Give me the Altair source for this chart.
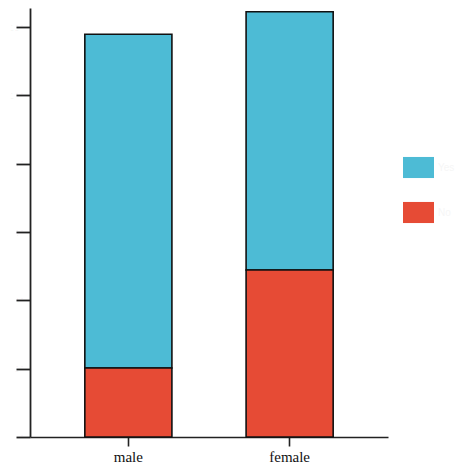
import altair as alt
import pandas as pd

groups = ["male", "female"]
series = ["Yes", "No"]
values_a = [97.7, 75.6]   # top (blue)
values_b = [20.2, 48.9]   # bottom (red)
colors = ["#4DBBD5", "#E64B35"]
y_ticks = [0, 20, 40, 60, 80, 100, 120]

rows = []
for g, a, b in zip(groups, values_a, values_b):
    rows.append({"group": g, "series": series[0], "value": a, "ord": 1})
    rows.append({"group": g, "series": series[1], "value": b, "ord": 0})
df = pd.DataFrame(rows)

rect_path = "M-1,-0.68H1V0.68H-1Z"

chart = alt.Chart(df).mark_bar(stroke="#111111", strokeWidth=1.6).encode(
    x=alt.X("group:N", sort=groups,
            scale=alt.Scale(paddingInner=0.46, paddingOuter=0.34),
            axis=alt.Axis(title=None, labelAngle=0,
                          labelFont="Liberation Serif, Times New Roman, serif",
                          labelFontSize=15, labelColor="#111111", labelPadding=3,
                          tickSize=9, tickWidth=1.6, tickColor="#222222",
                          domainColor="#222222", domainWidth=1.6)),
    y=alt.Y("value:Q", stack="zero",
            scale=alt.Scale(domain=[0, 125.6], nice=False),
            axis=alt.Axis(title=None, values=y_ticks, labelColor="#000000",
                          labelOpacity=0.04,
                          labelFontSize=9, labelPadding=-8, tickSize=14, tickWidth=1.8,
                          tickColor="#222222", domainColor="#222222",
                          domainWidth=1.8, grid=False)),
    color=alt.Color("series:N", sort=series,
                    scale=alt.Scale(domain=series, range=colors),
                    legend=alt.Legend(title=None, orient="none", legendX=373, legendY=144,
                                      symbolType=rect_path, symbolSize=961,
                                      symbolStrokeWidth=0, symbolOpacity=1,
                                      rowPadding=18, labelColor="#f6f6f6",
                                      labelFontSize=10)),
    order=alt.Order("ord:Q"),
).properties(
    width=358, height=429,
    autosize=alt.AutoSizeParams(type="none"),
    padding={"left": 22, "top": 0, "right": 78, "bottom": 29},
).configure_view(stroke=None)

chart.save("out.html", embed_options={"renderer": "svg", "actions": False})
